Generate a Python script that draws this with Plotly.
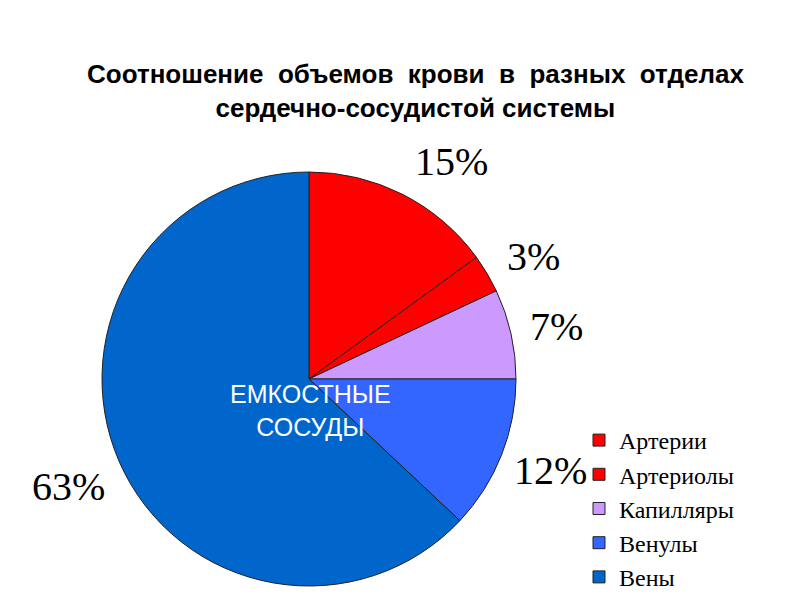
import plotly.graph_objects as go

labels = ["Артерии", "Артериолы", "Капилляры", "Венулы", "Вены"]
values = [15, 3, 7, 12, 63]
colors = ["#FF0000", "#FF0000", "#CC99FF", "#3366FF", "#0066CC"]
label_pos = [(443, 154), (525, 248), (548, 318), (542, 462), (60, 478)]

W, H = 800, 600
fig = go.Figure(go.Pie(
    labels=labels, values=values, sort=False, direction="clockwise", rotation=0,
    marker=dict(colors=colors, line=dict(color="#222222", width=1)),
    textinfo="none", hoverinfo="label+percent",
    domain=dict(x=[94/W, 508/W], y=[1-578/H, 1-164/H]),
))
ann = []
for v, (x, y) in zip(values, label_pos):
    ann.append(dict(x=x/W, y=1-y/H, xref="paper", yref="paper", text=f"{v}%", showarrow=False,
                    yanchor="middle", xanchor="center",
                    font=dict(family="Liberation Serif", size=40, color="black")))
ann.append(dict(x=302/W, y=1-402/H, xref="paper", yref="paper", text="ЕМКОСТНЫЕ<br>СОСУДЫ",
                showarrow=False, yanchor="middle",
                font=dict(family="Liberation Sans", size=25, color="white")))
ann.append(dict(x=407/W, y=1-83/H, xref="paper", yref="paper", yanchor="middle",
                text="<b>Соотношение  объемов  крови  в  разных  отделах<br>сердечно-сосудистой системы</b>",
                showarrow=False, font=dict(family="Liberation Sans", size=26, color="black")))
fig.update_layout(
    width=W, height=H, margin=dict(l=0, r=0, t=0, b=0),
    paper_bgcolor="white", plot_bgcolor="white",
    annotations=ann,
    legend=dict(x=571/W, y=1-410/H, xanchor="left", yanchor="top",
                font=dict(family="Liberation Serif", size=24, color="black"),
                tracegroupgap=0, itemwidth=30),
)
fig.write_html("out.html")
